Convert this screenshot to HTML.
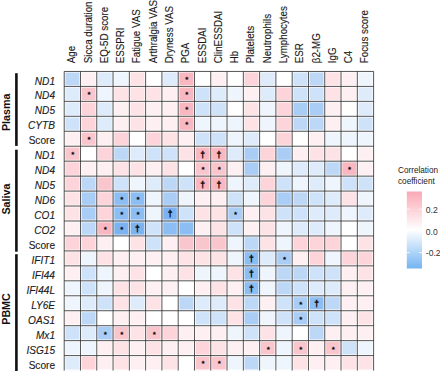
<!DOCTYPE html>
<html><head><meta charset="utf-8"><style>
html,body{margin:0;padding:0;background:#fff;}
body{width:440px;height:371px;overflow:hidden;}
svg{display:block;}
text{font-family:"Liberation Sans",sans-serif;}
.g{stroke:#2a2a2a;stroke-width:0.8;}
.h{stroke:rgba(255,255,255,0.7);stroke-width:2.8;}
.st{font-size:8px;text-anchor:middle;fill:#000;stroke:#000;stroke-width:0.3px;}
.dg{font-size:8.6px;text-anchor:middle;fill:#000;font-weight:bold;stroke:#000;stroke-width:0.3px;}
.ch{font-size:9.75px;fill:#1a1a1a;stroke:#1a1a1a;stroke-width:0.12px;}
.rl{font-size:10.1px;fill:#1a1a1a;text-anchor:end;stroke:#1a1a1a;stroke-width:0.12px;}
.it{font-style:italic;}
.gl{font-size:10.7px;font-weight:bold;fill:#111;text-anchor:middle;}
.lt{font-size:8.2px;fill:#222;}
.tk{font-size:8.6px;fill:#333;}
</style></head><body>
<svg width="440" height="371" viewBox="0 0 440 371">

<defs><linearGradient id="lg" x1="0" y1="0" x2="0" y2="1">
<stop offset="0" stop-color="#f9a9b5"/>
<stop offset="0.5" stop-color="#ffffff"/>
<stop offset="1" stop-color="#74b4f2"/>
</linearGradient></defs>
<text x="398" y="172.8" class="lt">Correlation</text>
<text x="398" y="183.8" class="lt">coefficient</text>
<rect x="406.8" y="191.5" width="15.2" height="77" fill="url(#lg)"/>
<line x1="406.8" y1="209.2" x2="409.8" y2="209.2" stroke="#fff" stroke-width="0.8"/>
<line x1="419" y1="209.2" x2="422" y2="209.2" stroke="#fff" stroke-width="0.8"/>
<line x1="406.8" y1="230.9" x2="409.8" y2="230.9" stroke="#fff" stroke-width="0.8"/>
<line x1="419" y1="230.9" x2="422" y2="230.9" stroke="#fff" stroke-width="0.8"/>
<line x1="406.8" y1="252.6" x2="409.8" y2="252.6" stroke="#fff" stroke-width="0.8"/>
<line x1="419" y1="252.6" x2="422" y2="252.6" stroke="#fff" stroke-width="0.8"/>
<text x="425.8" y="213.3" class="tk">0.2</text>
<text x="425.8" y="234.6" class="tk">0.0</text>
<text x="425.8" y="255.8" class="tk">-0.2</text>

<rect x="64.20" y="71.45" width="16.33" height="15.01" fill="#bdd8f7"/><rect x="80.48" y="71.45" width="16.33" height="15.01" fill="#fef0f2"/><rect x="96.77" y="71.45" width="16.33" height="15.01" fill="#deebfb"/><rect x="113.05" y="71.45" width="16.33" height="15.01" fill="#eef5fd"/><rect x="129.34" y="71.45" width="16.33" height="15.01" fill="#fde2e6"/><rect x="145.62" y="71.45" width="16.33" height="15.01" fill="#ffffff"/><rect x="161.91" y="71.45" width="16.33" height="15.01" fill="#deebfb"/><rect x="178.19" y="71.45" width="16.33" height="15.01" fill="#f9b7c2"/><rect x="194.47" y="71.45" width="16.33" height="15.01" fill="#ffffff"/><rect x="210.76" y="71.45" width="16.33" height="15.01" fill="#fef0f2"/><rect x="227.04" y="71.45" width="16.33" height="15.01" fill="#ffffff"/><rect x="243.33" y="71.45" width="16.33" height="15.01" fill="#fcd4da"/><rect x="259.61" y="71.45" width="16.33" height="15.01" fill="#deebfb"/><rect x="275.89" y="71.45" width="16.33" height="15.01" fill="#ffffff"/><rect x="292.18" y="71.45" width="16.33" height="15.01" fill="#cee2f9"/><rect x="308.46" y="71.45" width="16.33" height="15.01" fill="#bdd8f7"/><rect x="324.75" y="71.45" width="16.33" height="15.01" fill="#fde2e6"/><rect x="341.03" y="71.45" width="16.33" height="15.01" fill="#fef0f2"/><rect x="357.32" y="71.45" width="16.33" height="15.01" fill="#eef5fd"/><rect x="64.20" y="86.41" width="16.33" height="15.01" fill="#deebfb"/><rect x="80.48" y="86.41" width="16.33" height="15.01" fill="#fac6ce"/><rect x="96.77" y="86.41" width="16.33" height="15.01" fill="#eef5fd"/><rect x="113.05" y="86.41" width="16.33" height="15.01" fill="#fde2e6"/><rect x="129.34" y="86.41" width="16.33" height="15.01" fill="#fde2e6"/><rect x="145.62" y="86.41" width="16.33" height="15.01" fill="#fde2e6"/><rect x="161.91" y="86.41" width="16.33" height="15.01" fill="#fef0f2"/><rect x="178.19" y="86.41" width="16.33" height="15.01" fill="#f9b7c2"/><rect x="194.47" y="86.41" width="16.33" height="15.01" fill="#cee2f9"/><rect x="210.76" y="86.41" width="16.33" height="15.01" fill="#deebfb"/><rect x="227.04" y="86.41" width="16.33" height="15.01" fill="#eef5fd"/><rect x="243.33" y="86.41" width="16.33" height="15.01" fill="#fef0f2"/><rect x="259.61" y="86.41" width="16.33" height="15.01" fill="#deebfb"/><rect x="275.89" y="86.41" width="16.33" height="15.01" fill="#fcd4da"/><rect x="292.18" y="86.41" width="16.33" height="15.01" fill="#cee2f9"/><rect x="308.46" y="86.41" width="16.33" height="15.01" fill="#cee2f9"/><rect x="324.75" y="86.41" width="16.33" height="15.01" fill="#fde2e6"/><rect x="341.03" y="86.41" width="16.33" height="15.01" fill="#fef0f2"/><rect x="357.32" y="86.41" width="16.33" height="15.01" fill="#deebfb"/><rect x="64.20" y="101.36" width="16.33" height="15.01" fill="#deebfb"/><rect x="80.48" y="101.36" width="16.33" height="15.01" fill="#fcd4da"/><rect x="96.77" y="101.36" width="16.33" height="15.01" fill="#deebfb"/><rect x="113.05" y="101.36" width="16.33" height="15.01" fill="#fef0f2"/><rect x="129.34" y="101.36" width="16.33" height="15.01" fill="#fde2e6"/><rect x="145.62" y="101.36" width="16.33" height="15.01" fill="#fef0f2"/><rect x="161.91" y="101.36" width="16.33" height="15.01" fill="#fef0f2"/><rect x="178.19" y="101.36" width="16.33" height="15.01" fill="#f9b7c2"/><rect x="194.47" y="101.36" width="16.33" height="15.01" fill="#cee2f9"/><rect x="210.76" y="101.36" width="16.33" height="15.01" fill="#cee2f9"/><rect x="227.04" y="101.36" width="16.33" height="15.01" fill="#ffffff"/><rect x="243.33" y="101.36" width="16.33" height="15.01" fill="#fde2e6"/><rect x="259.61" y="101.36" width="16.33" height="15.01" fill="#eef5fd"/><rect x="275.89" y="101.36" width="16.33" height="15.01" fill="#fcd4da"/><rect x="292.18" y="101.36" width="16.33" height="15.01" fill="#aacdf5"/><rect x="308.46" y="101.36" width="16.33" height="15.01" fill="#aacdf5"/><rect x="324.75" y="101.36" width="16.33" height="15.01" fill="#fef0f2"/><rect x="341.03" y="101.36" width="16.33" height="15.01" fill="#ffffff"/><rect x="357.32" y="101.36" width="16.33" height="15.01" fill="#deebfb"/><rect x="64.20" y="116.31" width="16.33" height="15.01" fill="#cee2f9"/><rect x="80.48" y="116.31" width="16.33" height="15.01" fill="#fcd4da"/><rect x="96.77" y="116.31" width="16.33" height="15.01" fill="#deebfb"/><rect x="113.05" y="116.31" width="16.33" height="15.01" fill="#fef0f2"/><rect x="129.34" y="116.31" width="16.33" height="15.01" fill="#fde2e6"/><rect x="145.62" y="116.31" width="16.33" height="15.01" fill="#fef0f2"/><rect x="161.91" y="116.31" width="16.33" height="15.01" fill="#fef0f2"/><rect x="178.19" y="116.31" width="16.33" height="15.01" fill="#f9b7c2"/><rect x="194.47" y="116.31" width="16.33" height="15.01" fill="#eef5fd"/><rect x="210.76" y="116.31" width="16.33" height="15.01" fill="#eef5fd"/><rect x="227.04" y="116.31" width="16.33" height="15.01" fill="#eef5fd"/><rect x="243.33" y="116.31" width="16.33" height="15.01" fill="#fde2e6"/><rect x="259.61" y="116.31" width="16.33" height="15.01" fill="#eef5fd"/><rect x="275.89" y="116.31" width="16.33" height="15.01" fill="#fcd4da"/><rect x="292.18" y="116.31" width="16.33" height="15.01" fill="#bdd8f7"/><rect x="308.46" y="116.31" width="16.33" height="15.01" fill="#bdd8f7"/><rect x="324.75" y="116.31" width="16.33" height="15.01" fill="#fef0f2"/><rect x="341.03" y="116.31" width="16.33" height="15.01" fill="#eef5fd"/><rect x="357.32" y="116.31" width="16.33" height="15.01" fill="#cee2f9"/><rect x="64.20" y="131.27" width="16.33" height="15.01" fill="#fef0f2"/><rect x="80.48" y="131.27" width="16.33" height="15.01" fill="#fac6ce"/><rect x="96.77" y="131.27" width="16.33" height="15.01" fill="#fef0f2"/><rect x="113.05" y="131.27" width="16.33" height="15.01" fill="#fcd4da"/><rect x="129.34" y="131.27" width="16.33" height="15.01" fill="#ffffff"/><rect x="145.62" y="131.27" width="16.33" height="15.01" fill="#fcd4da"/><rect x="161.91" y="131.27" width="16.33" height="15.01" fill="#fde2e6"/><rect x="178.19" y="131.27" width="16.33" height="15.01" fill="#fef0f2"/><rect x="194.47" y="131.27" width="16.33" height="15.01" fill="#cee2f9"/><rect x="210.76" y="131.27" width="16.33" height="15.01" fill="#cee2f9"/><rect x="227.04" y="131.27" width="16.33" height="15.01" fill="#eef5fd"/><rect x="243.33" y="131.27" width="16.33" height="15.01" fill="#deebfb"/><rect x="259.61" y="131.27" width="16.33" height="15.01" fill="#ffffff"/><rect x="275.89" y="131.27" width="16.33" height="15.01" fill="#fcd4da"/><rect x="292.18" y="131.27" width="16.33" height="15.01" fill="#ffffff"/><rect x="308.46" y="131.27" width="16.33" height="15.01" fill="#fef0f2"/><rect x="324.75" y="131.27" width="16.33" height="15.01" fill="#eef5fd"/><rect x="341.03" y="131.27" width="16.33" height="15.01" fill="#eef5fd"/><rect x="357.32" y="131.27" width="16.33" height="15.01" fill="#eef5fd"/><rect x="64.20" y="146.23" width="16.33" height="15.01" fill="#fac6ce"/><rect x="80.48" y="146.23" width="16.33" height="15.01" fill="#ffffff"/><rect x="96.77" y="146.23" width="16.33" height="15.01" fill="#fcd4da"/><rect x="113.05" y="146.23" width="16.33" height="15.01" fill="#bdd8f7"/><rect x="129.34" y="146.23" width="16.33" height="15.01" fill="#deebfb"/><rect x="145.62" y="146.23" width="16.33" height="15.01" fill="#cee2f9"/><rect x="161.91" y="146.23" width="16.33" height="15.01" fill="#cee2f9"/><rect x="178.19" y="146.23" width="16.33" height="15.01" fill="#fde2e6"/><rect x="194.47" y="146.23" width="16.33" height="15.01" fill="#f9b7c2"/><rect x="210.76" y="146.23" width="16.33" height="15.01" fill="#f9b7c2"/><rect x="227.04" y="146.23" width="16.33" height="15.01" fill="#deebfb"/><rect x="243.33" y="146.23" width="16.33" height="15.01" fill="#aacdf5"/><rect x="259.61" y="146.23" width="16.33" height="15.01" fill="#fcd4da"/><rect x="275.89" y="146.23" width="16.33" height="15.01" fill="#aacdf5"/><rect x="292.18" y="146.23" width="16.33" height="15.01" fill="#fef0f2"/><rect x="308.46" y="146.23" width="16.33" height="15.01" fill="#fde2e6"/><rect x="324.75" y="146.23" width="16.33" height="15.01" fill="#fde2e6"/><rect x="341.03" y="146.23" width="16.33" height="15.01" fill="#ffffff"/><rect x="357.32" y="146.23" width="16.33" height="15.01" fill="#fef0f2"/><rect x="64.20" y="161.18" width="16.33" height="15.01" fill="#fcd4da"/><rect x="80.48" y="161.18" width="16.33" height="15.01" fill="#fef0f2"/><rect x="96.77" y="161.18" width="16.33" height="15.01" fill="#fef0f2"/><rect x="113.05" y="161.18" width="16.33" height="15.01" fill="#fde2e6"/><rect x="129.34" y="161.18" width="16.33" height="15.01" fill="#fde2e6"/><rect x="145.62" y="161.18" width="16.33" height="15.01" fill="#fef0f2"/><rect x="161.91" y="161.18" width="16.33" height="15.01" fill="#fde2e6"/><rect x="178.19" y="161.18" width="16.33" height="15.01" fill="#ffffff"/><rect x="194.47" y="161.18" width="16.33" height="15.01" fill="#fac6ce"/><rect x="210.76" y="161.18" width="16.33" height="15.01" fill="#fac6ce"/><rect x="227.04" y="161.18" width="16.33" height="15.01" fill="#fef0f2"/><rect x="243.33" y="161.18" width="16.33" height="15.01" fill="#aacdf5"/><rect x="259.61" y="161.18" width="16.33" height="15.01" fill="#fef0f2"/><rect x="275.89" y="161.18" width="16.33" height="15.01" fill="#eef5fd"/><rect x="292.18" y="161.18" width="16.33" height="15.01" fill="#deebfb"/><rect x="308.46" y="161.18" width="16.33" height="15.01" fill="#deebfb"/><rect x="324.75" y="161.18" width="16.33" height="15.01" fill="#bdd8f7"/><rect x="341.03" y="161.18" width="16.33" height="15.01" fill="#f9b7c2"/><rect x="357.32" y="161.18" width="16.33" height="15.01" fill="#fef0f2"/><rect x="64.20" y="176.13" width="16.33" height="15.01" fill="#fcd4da"/><rect x="80.48" y="176.13" width="16.33" height="15.01" fill="#bdd8f7"/><rect x="96.77" y="176.13" width="16.33" height="15.01" fill="#fac6ce"/><rect x="113.05" y="176.13" width="16.33" height="15.01" fill="#cee2f9"/><rect x="129.34" y="176.13" width="16.33" height="15.01" fill="#eef5fd"/><rect x="145.62" y="176.13" width="16.33" height="15.01" fill="#deebfb"/><rect x="161.91" y="176.13" width="16.33" height="15.01" fill="#bdd8f7"/><rect x="178.19" y="176.13" width="16.33" height="15.01" fill="#cee2f9"/><rect x="194.47" y="176.13" width="16.33" height="15.01" fill="#f9b7c2"/><rect x="210.76" y="176.13" width="16.33" height="15.01" fill="#f9b7c2"/><rect x="227.04" y="176.13" width="16.33" height="15.01" fill="#eef5fd"/><rect x="243.33" y="176.13" width="16.33" height="15.01" fill="#deebfb"/><rect x="259.61" y="176.13" width="16.33" height="15.01" fill="#fcd4da"/><rect x="275.89" y="176.13" width="16.33" height="15.01" fill="#cee2f9"/><rect x="292.18" y="176.13" width="16.33" height="15.01" fill="#eef5fd"/><rect x="308.46" y="176.13" width="16.33" height="15.01" fill="#deebfb"/><rect x="324.75" y="176.13" width="16.33" height="15.01" fill="#eef5fd"/><rect x="341.03" y="176.13" width="16.33" height="15.01" fill="#cee2f9"/><rect x="357.32" y="176.13" width="16.33" height="15.01" fill="#cee2f9"/><rect x="64.20" y="191.09" width="16.33" height="15.01" fill="#fde2e6"/><rect x="80.48" y="191.09" width="16.33" height="15.01" fill="#aacdf5"/><rect x="96.77" y="191.09" width="16.33" height="15.01" fill="#fcd4da"/><rect x="113.05" y="191.09" width="16.33" height="15.01" fill="#8cbdf3"/><rect x="129.34" y="191.09" width="16.33" height="15.01" fill="#8cbdf3"/><rect x="145.62" y="191.09" width="16.33" height="15.01" fill="#eef5fd"/><rect x="161.91" y="191.09" width="16.33" height="15.01" fill="#aacdf5"/><rect x="178.19" y="191.09" width="16.33" height="15.01" fill="#eef5fd"/><rect x="194.47" y="191.09" width="16.33" height="15.01" fill="#fef0f2"/><rect x="210.76" y="191.09" width="16.33" height="15.01" fill="#fef0f2"/><rect x="227.04" y="191.09" width="16.33" height="15.01" fill="#cee2f9"/><rect x="243.33" y="191.09" width="16.33" height="15.01" fill="#eef5fd"/><rect x="259.61" y="191.09" width="16.33" height="15.01" fill="#fcd4da"/><rect x="275.89" y="191.09" width="16.33" height="15.01" fill="#aacdf5"/><rect x="292.18" y="191.09" width="16.33" height="15.01" fill="#bdd8f7"/><rect x="308.46" y="191.09" width="16.33" height="15.01" fill="#cee2f9"/><rect x="324.75" y="191.09" width="16.33" height="15.01" fill="#deebfb"/><rect x="341.03" y="191.09" width="16.33" height="15.01" fill="#fde2e6"/><rect x="357.32" y="191.09" width="16.33" height="15.01" fill="#eef5fd"/><rect x="64.20" y="206.05" width="16.33" height="15.01" fill="#fde2e6"/><rect x="80.48" y="206.05" width="16.33" height="15.01" fill="#aacdf5"/><rect x="96.77" y="206.05" width="16.33" height="15.01" fill="#fcd4da"/><rect x="113.05" y="206.05" width="16.33" height="15.01" fill="#8cbdf3"/><rect x="129.34" y="206.05" width="16.33" height="15.01" fill="#8cbdf3"/><rect x="145.62" y="206.05" width="16.33" height="15.01" fill="#eef5fd"/><rect x="161.91" y="206.05" width="16.33" height="15.01" fill="#7cb2f0"/><rect x="178.19" y="206.05" width="16.33" height="15.01" fill="#cee2f9"/><rect x="194.47" y="206.05" width="16.33" height="15.01" fill="#fde2e6"/><rect x="210.76" y="206.05" width="16.33" height="15.01" fill="#fde2e6"/><rect x="227.04" y="206.05" width="16.33" height="15.01" fill="#aacdf5"/><rect x="243.33" y="206.05" width="16.33" height="15.01" fill="#fef0f2"/><rect x="259.61" y="206.05" width="16.33" height="15.01" fill="#fde2e6"/><rect x="275.89" y="206.05" width="16.33" height="15.01" fill="#cee2f9"/><rect x="292.18" y="206.05" width="16.33" height="15.01" fill="#cee2f9"/><rect x="308.46" y="206.05" width="16.33" height="15.01" fill="#deebfb"/><rect x="324.75" y="206.05" width="16.33" height="15.01" fill="#deebfb"/><rect x="341.03" y="206.05" width="16.33" height="15.01" fill="#eef5fd"/><rect x="357.32" y="206.05" width="16.33" height="15.01" fill="#deebfb"/><rect x="64.20" y="221.00" width="16.33" height="15.01" fill="#fef0f2"/><rect x="80.48" y="221.00" width="16.33" height="15.01" fill="#bdd8f7"/><rect x="96.77" y="221.00" width="16.33" height="15.01" fill="#f9b7c2"/><rect x="113.05" y="221.00" width="16.33" height="15.01" fill="#7cb2f0"/><rect x="129.34" y="221.00" width="16.33" height="15.01" fill="#7cb2f0"/><rect x="145.62" y="221.00" width="16.33" height="15.01" fill="#cee2f9"/><rect x="161.91" y="221.00" width="16.33" height="15.01" fill="#8cbdf3"/><rect x="178.19" y="221.00" width="16.33" height="15.01" fill="#8cbdf3"/><rect x="194.47" y="221.00" width="16.33" height="15.01" fill="#fef0f2"/><rect x="210.76" y="221.00" width="16.33" height="15.01" fill="#fde2e6"/><rect x="227.04" y="221.00" width="16.33" height="15.01" fill="#cee2f9"/><rect x="243.33" y="221.00" width="16.33" height="15.01" fill="#fef0f2"/><rect x="259.61" y="221.00" width="16.33" height="15.01" fill="#fde2e6"/><rect x="275.89" y="221.00" width="16.33" height="15.01" fill="#eef5fd"/><rect x="292.18" y="221.00" width="16.33" height="15.01" fill="#deebfb"/><rect x="308.46" y="221.00" width="16.33" height="15.01" fill="#deebfb"/><rect x="324.75" y="221.00" width="16.33" height="15.01" fill="#eef5fd"/><rect x="341.03" y="221.00" width="16.33" height="15.01" fill="#ffffff"/><rect x="357.32" y="221.00" width="16.33" height="15.01" fill="#eef5fd"/><rect x="64.20" y="235.95" width="16.33" height="15.01" fill="#fcd4da"/><rect x="80.48" y="235.95" width="16.33" height="15.01" fill="#fcd4da"/><rect x="96.77" y="235.95" width="16.33" height="15.01" fill="#fef0f2"/><rect x="113.05" y="235.95" width="16.33" height="15.01" fill="#ffffff"/><rect x="129.34" y="235.95" width="16.33" height="15.01" fill="#fde2e6"/><rect x="145.62" y="235.95" width="16.33" height="15.01" fill="#cee2f9"/><rect x="161.91" y="235.95" width="16.33" height="15.01" fill="#fef0f2"/><rect x="178.19" y="235.95" width="16.33" height="15.01" fill="#fac6ce"/><rect x="194.47" y="235.95" width="16.33" height="15.01" fill="#fac6ce"/><rect x="210.76" y="235.95" width="16.33" height="15.01" fill="#fac6ce"/><rect x="227.04" y="235.95" width="16.33" height="15.01" fill="#eef5fd"/><rect x="243.33" y="235.95" width="16.33" height="15.01" fill="#bdd8f7"/><rect x="259.61" y="235.95" width="16.33" height="15.01" fill="#fde2e6"/><rect x="275.89" y="235.95" width="16.33" height="15.01" fill="#eef5fd"/><rect x="292.18" y="235.95" width="16.33" height="15.01" fill="#fcd4da"/><rect x="308.46" y="235.95" width="16.33" height="15.01" fill="#fcd4da"/><rect x="324.75" y="235.95" width="16.33" height="15.01" fill="#fcd4da"/><rect x="341.03" y="235.95" width="16.33" height="15.01" fill="#ffffff"/><rect x="357.32" y="235.95" width="16.33" height="15.01" fill="#fde2e6"/><rect x="64.20" y="250.91" width="16.33" height="15.01" fill="#fde2e6"/><rect x="80.48" y="250.91" width="16.33" height="15.01" fill="#eef5fd"/><rect x="96.77" y="250.91" width="16.33" height="15.01" fill="#fde2e6"/><rect x="113.05" y="250.91" width="16.33" height="15.01" fill="#fef0f2"/><rect x="129.34" y="250.91" width="16.33" height="15.01" fill="#fef0f2"/><rect x="145.62" y="250.91" width="16.33" height="15.01" fill="#fef0f2"/><rect x="161.91" y="250.91" width="16.33" height="15.01" fill="#fef0f2"/><rect x="178.19" y="250.91" width="16.33" height="15.01" fill="#fde2e6"/><rect x="194.47" y="250.91" width="16.33" height="15.01" fill="#fde2e6"/><rect x="210.76" y="250.91" width="16.33" height="15.01" fill="#fde2e6"/><rect x="227.04" y="250.91" width="16.33" height="15.01" fill="#eef5fd"/><rect x="243.33" y="250.91" width="16.33" height="15.01" fill="#8cbdf3"/><rect x="259.61" y="250.91" width="16.33" height="15.01" fill="#deebfb"/><rect x="275.89" y="250.91" width="16.33" height="15.01" fill="#aacdf5"/><rect x="292.18" y="250.91" width="16.33" height="15.01" fill="#fef0f2"/><rect x="308.46" y="250.91" width="16.33" height="15.01" fill="#fcd4da"/><rect x="324.75" y="250.91" width="16.33" height="15.01" fill="#eef5fd"/><rect x="341.03" y="250.91" width="16.33" height="15.01" fill="#fcd4da"/><rect x="357.32" y="250.91" width="16.33" height="15.01" fill="#fcd4da"/><rect x="64.20" y="265.87" width="16.33" height="15.01" fill="#fef0f2"/><rect x="80.48" y="265.87" width="16.33" height="15.01" fill="#cee2f9"/><rect x="96.77" y="265.87" width="16.33" height="15.01" fill="#eef5fd"/><rect x="113.05" y="265.87" width="16.33" height="15.01" fill="#fef0f2"/><rect x="129.34" y="265.87" width="16.33" height="15.01" fill="#fde2e6"/><rect x="145.62" y="265.87" width="16.33" height="15.01" fill="#ffffff"/><rect x="161.91" y="265.87" width="16.33" height="15.01" fill="#fef0f2"/><rect x="178.19" y="265.87" width="16.33" height="15.01" fill="#fde2e6"/><rect x="194.47" y="265.87" width="16.33" height="15.01" fill="#eef5fd"/><rect x="210.76" y="265.87" width="16.33" height="15.01" fill="#eef5fd"/><rect x="227.04" y="265.87" width="16.33" height="15.01" fill="#fde2e6"/><rect x="243.33" y="265.87" width="16.33" height="15.01" fill="#8cbdf3"/><rect x="259.61" y="265.87" width="16.33" height="15.01" fill="#eef5fd"/><rect x="275.89" y="265.87" width="16.33" height="15.01" fill="#bdd8f7"/><rect x="292.18" y="265.87" width="16.33" height="15.01" fill="#bdd8f7"/><rect x="308.46" y="265.87" width="16.33" height="15.01" fill="#cee2f9"/><rect x="324.75" y="265.87" width="16.33" height="15.01" fill="#cee2f9"/><rect x="341.03" y="265.87" width="16.33" height="15.01" fill="#fef0f2"/><rect x="357.32" y="265.87" width="16.33" height="15.01" fill="#fde2e6"/><rect x="64.20" y="280.82" width="16.33" height="15.01" fill="#eef5fd"/><rect x="80.48" y="280.82" width="16.33" height="15.01" fill="#cee2f9"/><rect x="96.77" y="280.82" width="16.33" height="15.01" fill="#eef5fd"/><rect x="113.05" y="280.82" width="16.33" height="15.01" fill="#fde2e6"/><rect x="129.34" y="280.82" width="16.33" height="15.01" fill="#fde2e6"/><rect x="145.62" y="280.82" width="16.33" height="15.01" fill="#fef0f2"/><rect x="161.91" y="280.82" width="16.33" height="15.01" fill="#fef0f2"/><rect x="178.19" y="280.82" width="16.33" height="15.01" fill="#ffffff"/><rect x="194.47" y="280.82" width="16.33" height="15.01" fill="#fef0f2"/><rect x="210.76" y="280.82" width="16.33" height="15.01" fill="#fde2e6"/><rect x="227.04" y="280.82" width="16.33" height="15.01" fill="#fef0f2"/><rect x="243.33" y="280.82" width="16.33" height="15.01" fill="#8cbdf3"/><rect x="259.61" y="280.82" width="16.33" height="15.01" fill="#eef5fd"/><rect x="275.89" y="280.82" width="16.33" height="15.01" fill="#bdd8f7"/><rect x="292.18" y="280.82" width="16.33" height="15.01" fill="#cee2f9"/><rect x="308.46" y="280.82" width="16.33" height="15.01" fill="#deebfb"/><rect x="324.75" y="280.82" width="16.33" height="15.01" fill="#deebfb"/><rect x="341.03" y="280.82" width="16.33" height="15.01" fill="#fef0f2"/><rect x="357.32" y="280.82" width="16.33" height="15.01" fill="#fef0f2"/><rect x="64.20" y="295.77" width="16.33" height="15.01" fill="#eef5fd"/><rect x="80.48" y="295.77" width="16.33" height="15.01" fill="#deebfb"/><rect x="96.77" y="295.77" width="16.33" height="15.01" fill="#cee2f9"/><rect x="113.05" y="295.77" width="16.33" height="15.01" fill="#fde2e6"/><rect x="129.34" y="295.77" width="16.33" height="15.01" fill="#deebfb"/><rect x="145.62" y="295.77" width="16.33" height="15.01" fill="#fde2e6"/><rect x="161.91" y="295.77" width="16.33" height="15.01" fill="#ffffff"/><rect x="178.19" y="295.77" width="16.33" height="15.01" fill="#bdd8f7"/><rect x="194.47" y="295.77" width="16.33" height="15.01" fill="#deebfb"/><rect x="210.76" y="295.77" width="16.33" height="15.01" fill="#deebfb"/><rect x="227.04" y="295.77" width="16.33" height="15.01" fill="#fde2e6"/><rect x="243.33" y="295.77" width="16.33" height="15.01" fill="#bdd8f7"/><rect x="259.61" y="295.77" width="16.33" height="15.01" fill="#fef0f2"/><rect x="275.89" y="295.77" width="16.33" height="15.01" fill="#cee2f9"/><rect x="292.18" y="295.77" width="16.33" height="15.01" fill="#aacdf5"/><rect x="308.46" y="295.77" width="16.33" height="15.01" fill="#8cbdf3"/><rect x="324.75" y="295.77" width="16.33" height="15.01" fill="#bdd8f7"/><rect x="341.03" y="295.77" width="16.33" height="15.01" fill="#fef0f2"/><rect x="357.32" y="295.77" width="16.33" height="15.01" fill="#fef0f2"/><rect x="64.20" y="310.73" width="16.33" height="15.01" fill="#fef0f2"/><rect x="80.48" y="310.73" width="16.33" height="15.01" fill="#bdd8f7"/><rect x="96.77" y="310.73" width="16.33" height="15.01" fill="#ffffff"/><rect x="113.05" y="310.73" width="16.33" height="15.01" fill="#fef0f2"/><rect x="129.34" y="310.73" width="16.33" height="15.01" fill="#fef0f2"/><rect x="145.62" y="310.73" width="16.33" height="15.01" fill="#ffffff"/><rect x="161.91" y="310.73" width="16.33" height="15.01" fill="#ffffff"/><rect x="178.19" y="310.73" width="16.33" height="15.01" fill="#ffffff"/><rect x="194.47" y="310.73" width="16.33" height="15.01" fill="#cee2f9"/><rect x="210.76" y="310.73" width="16.33" height="15.01" fill="#cee2f9"/><rect x="227.04" y="310.73" width="16.33" height="15.01" fill="#fde2e6"/><rect x="243.33" y="310.73" width="16.33" height="15.01" fill="#aacdf5"/><rect x="259.61" y="310.73" width="16.33" height="15.01" fill="#eef5fd"/><rect x="275.89" y="310.73" width="16.33" height="15.01" fill="#cee2f9"/><rect x="292.18" y="310.73" width="16.33" height="15.01" fill="#aacdf5"/><rect x="308.46" y="310.73" width="16.33" height="15.01" fill="#cee2f9"/><rect x="324.75" y="310.73" width="16.33" height="15.01" fill="#cee2f9"/><rect x="341.03" y="310.73" width="16.33" height="15.01" fill="#fef0f2"/><rect x="357.32" y="310.73" width="16.33" height="15.01" fill="#fde2e6"/><rect x="64.20" y="325.69" width="16.33" height="15.01" fill="#cee2f9"/><rect x="80.48" y="325.69" width="16.33" height="15.01" fill="#deebfb"/><rect x="96.77" y="325.69" width="16.33" height="15.01" fill="#aacdf5"/><rect x="113.05" y="325.69" width="16.33" height="15.01" fill="#fac6ce"/><rect x="129.34" y="325.69" width="16.33" height="15.01" fill="#fde2e6"/><rect x="145.62" y="325.69" width="16.33" height="15.01" fill="#fac6ce"/><rect x="161.91" y="325.69" width="16.33" height="15.01" fill="#fcd4da"/><rect x="178.19" y="325.69" width="16.33" height="15.01" fill="#fef0f2"/><rect x="194.47" y="325.69" width="16.33" height="15.01" fill="#fef0f2"/><rect x="210.76" y="325.69" width="16.33" height="15.01" fill="#fef0f2"/><rect x="227.04" y="325.69" width="16.33" height="15.01" fill="#eef5fd"/><rect x="243.33" y="325.69" width="16.33" height="15.01" fill="#cee2f9"/><rect x="259.61" y="325.69" width="16.33" height="15.01" fill="#fde2e6"/><rect x="275.89" y="325.69" width="16.33" height="15.01" fill="#eef5fd"/><rect x="292.18" y="325.69" width="16.33" height="15.01" fill="#ffffff"/><rect x="308.46" y="325.69" width="16.33" height="15.01" fill="#bdd8f7"/><rect x="324.75" y="325.69" width="16.33" height="15.01" fill="#fef0f2"/><rect x="341.03" y="325.69" width="16.33" height="15.01" fill="#fef0f2"/><rect x="357.32" y="325.69" width="16.33" height="15.01" fill="#fef0f2"/><rect x="64.20" y="340.64" width="16.33" height="15.01" fill="#eef5fd"/><rect x="80.48" y="340.64" width="16.33" height="15.01" fill="#eef5fd"/><rect x="96.77" y="340.64" width="16.33" height="15.01" fill="#fef0f2"/><rect x="113.05" y="340.64" width="16.33" height="15.01" fill="#fde2e6"/><rect x="129.34" y="340.64" width="16.33" height="15.01" fill="#fef0f2"/><rect x="145.62" y="340.64" width="16.33" height="15.01" fill="#fde2e6"/><rect x="161.91" y="340.64" width="16.33" height="15.01" fill="#fef0f2"/><rect x="178.19" y="340.64" width="16.33" height="15.01" fill="#fef0f2"/><rect x="194.47" y="340.64" width="16.33" height="15.01" fill="#fcd4da"/><rect x="210.76" y="340.64" width="16.33" height="15.01" fill="#fde2e6"/><rect x="227.04" y="340.64" width="16.33" height="15.01" fill="#fef0f2"/><rect x="243.33" y="340.64" width="16.33" height="15.01" fill="#fef0f2"/><rect x="259.61" y="340.64" width="16.33" height="15.01" fill="#fac6ce"/><rect x="275.89" y="340.64" width="16.33" height="15.01" fill="#eef5fd"/><rect x="292.18" y="340.64" width="16.33" height="15.01" fill="#fac6ce"/><rect x="308.46" y="340.64" width="16.33" height="15.01" fill="#fef0f2"/><rect x="324.75" y="340.64" width="16.33" height="15.01" fill="#fac6ce"/><rect x="341.03" y="340.64" width="16.33" height="15.01" fill="#cee2f9"/><rect x="357.32" y="340.64" width="16.33" height="15.01" fill="#eef5fd"/><rect x="64.20" y="355.59" width="16.33" height="15.01" fill="#deebfb"/><rect x="80.48" y="355.59" width="16.33" height="15.01" fill="#fcd4da"/><rect x="96.77" y="355.59" width="16.33" height="15.01" fill="#fef0f2"/><rect x="113.05" y="355.59" width="16.33" height="15.01" fill="#fde2e6"/><rect x="129.34" y="355.59" width="16.33" height="15.01" fill="#fef0f2"/><rect x="145.62" y="355.59" width="16.33" height="15.01" fill="#fef0f2"/><rect x="161.91" y="355.59" width="16.33" height="15.01" fill="#fde2e6"/><rect x="178.19" y="355.59" width="16.33" height="15.01" fill="#ffffff"/><rect x="194.47" y="355.59" width="16.33" height="15.01" fill="#fac6ce"/><rect x="210.76" y="355.59" width="16.33" height="15.01" fill="#fac6ce"/><rect x="227.04" y="355.59" width="16.33" height="15.01" fill="#eef5fd"/><rect x="243.33" y="355.59" width="16.33" height="15.01" fill="#bdd8f7"/><rect x="259.61" y="355.59" width="16.33" height="15.01" fill="#eef5fd"/><rect x="275.89" y="355.59" width="16.33" height="15.01" fill="#eef5fd"/><rect x="292.18" y="355.59" width="16.33" height="15.01" fill="#fde2e6"/><rect x="308.46" y="355.59" width="16.33" height="15.01" fill="#fef0f2"/><rect x="324.75" y="355.59" width="16.33" height="15.01" fill="#fef0f2"/><rect x="341.03" y="355.59" width="16.33" height="15.01" fill="#fde2e6"/><rect x="357.32" y="355.59" width="16.33" height="15.01" fill="#fde2e6"/><line x1="64.20" y1="71.45" x2="64.20" y2="370.55" class="h"/><line x1="80.48" y1="71.45" x2="80.48" y2="370.55" class="h"/><line x1="96.77" y1="71.45" x2="96.77" y2="370.55" class="h"/><line x1="113.05" y1="71.45" x2="113.05" y2="370.55" class="h"/><line x1="129.34" y1="71.45" x2="129.34" y2="370.55" class="h"/><line x1="145.62" y1="71.45" x2="145.62" y2="370.55" class="h"/><line x1="161.91" y1="71.45" x2="161.91" y2="370.55" class="h"/><line x1="178.19" y1="71.45" x2="178.19" y2="370.55" class="h"/><line x1="194.47" y1="71.45" x2="194.47" y2="370.55" class="h"/><line x1="210.76" y1="71.45" x2="210.76" y2="370.55" class="h"/><line x1="227.04" y1="71.45" x2="227.04" y2="370.55" class="h"/><line x1="243.33" y1="71.45" x2="243.33" y2="370.55" class="h"/><line x1="259.61" y1="71.45" x2="259.61" y2="370.55" class="h"/><line x1="275.89" y1="71.45" x2="275.89" y2="370.55" class="h"/><line x1="292.18" y1="71.45" x2="292.18" y2="370.55" class="h"/><line x1="308.46" y1="71.45" x2="308.46" y2="370.55" class="h"/><line x1="324.75" y1="71.45" x2="324.75" y2="370.55" class="h"/><line x1="341.03" y1="71.45" x2="341.03" y2="370.55" class="h"/><line x1="357.32" y1="71.45" x2="357.32" y2="370.55" class="h"/><line x1="373.60" y1="71.45" x2="373.60" y2="370.55" class="h"/><line x1="64.20" y1="71.45" x2="373.60" y2="71.45" class="h"/><line x1="64.20" y1="86.41" x2="373.60" y2="86.41" class="h"/><line x1="64.20" y1="101.36" x2="373.60" y2="101.36" class="h"/><line x1="64.20" y1="116.31" x2="373.60" y2="116.31" class="h"/><line x1="64.20" y1="131.27" x2="373.60" y2="131.27" class="h"/><line x1="64.20" y1="146.23" x2="373.60" y2="146.23" class="h"/><line x1="64.20" y1="161.18" x2="373.60" y2="161.18" class="h"/><line x1="64.20" y1="176.13" x2="373.60" y2="176.13" class="h"/><line x1="64.20" y1="191.09" x2="373.60" y2="191.09" class="h"/><line x1="64.20" y1="206.05" x2="373.60" y2="206.05" class="h"/><line x1="64.20" y1="221.00" x2="373.60" y2="221.00" class="h"/><line x1="64.20" y1="235.95" x2="373.60" y2="235.95" class="h"/><line x1="64.20" y1="250.91" x2="373.60" y2="250.91" class="h"/><line x1="64.20" y1="265.87" x2="373.60" y2="265.87" class="h"/><line x1="64.20" y1="280.82" x2="373.60" y2="280.82" class="h"/><line x1="64.20" y1="295.77" x2="373.60" y2="295.77" class="h"/><line x1="64.20" y1="310.73" x2="373.60" y2="310.73" class="h"/><line x1="64.20" y1="325.69" x2="373.60" y2="325.69" class="h"/><line x1="64.20" y1="340.64" x2="373.60" y2="340.64" class="h"/><line x1="64.20" y1="355.59" x2="373.60" y2="355.59" class="h"/><line x1="64.20" y1="370.55" x2="373.60" y2="370.55" class="h"/><line x1="64.20" y1="71.45" x2="64.20" y2="370.55" class="g"/><line x1="80.48" y1="71.45" x2="80.48" y2="370.55" class="g"/><line x1="96.77" y1="71.45" x2="96.77" y2="370.55" class="g"/><line x1="113.05" y1="71.45" x2="113.05" y2="370.55" class="g"/><line x1="129.34" y1="71.45" x2="129.34" y2="370.55" class="g"/><line x1="145.62" y1="71.45" x2="145.62" y2="370.55" class="g"/><line x1="161.91" y1="71.45" x2="161.91" y2="370.55" class="g"/><line x1="178.19" y1="71.45" x2="178.19" y2="370.55" class="g"/><line x1="194.47" y1="71.45" x2="194.47" y2="370.55" class="g"/><line x1="210.76" y1="71.45" x2="210.76" y2="370.55" class="g"/><line x1="227.04" y1="71.45" x2="227.04" y2="370.55" class="g"/><line x1="243.33" y1="71.45" x2="243.33" y2="370.55" class="g"/><line x1="259.61" y1="71.45" x2="259.61" y2="370.55" class="g"/><line x1="275.89" y1="71.45" x2="275.89" y2="370.55" class="g"/><line x1="292.18" y1="71.45" x2="292.18" y2="370.55" class="g"/><line x1="308.46" y1="71.45" x2="308.46" y2="370.55" class="g"/><line x1="324.75" y1="71.45" x2="324.75" y2="370.55" class="g"/><line x1="341.03" y1="71.45" x2="341.03" y2="370.55" class="g"/><line x1="357.32" y1="71.45" x2="357.32" y2="370.55" class="g"/><line x1="373.60" y1="71.45" x2="373.60" y2="370.55" class="g"/><line x1="64.20" y1="71.45" x2="373.60" y2="71.45" class="g"/><line x1="64.20" y1="86.41" x2="373.60" y2="86.41" class="g"/><line x1="64.20" y1="101.36" x2="373.60" y2="101.36" class="g"/><line x1="64.20" y1="116.31" x2="373.60" y2="116.31" class="g"/><line x1="64.20" y1="131.27" x2="373.60" y2="131.27" class="g"/><line x1="64.20" y1="146.23" x2="373.60" y2="146.23" class="g"/><line x1="64.20" y1="161.18" x2="373.60" y2="161.18" class="g"/><line x1="64.20" y1="176.13" x2="373.60" y2="176.13" class="g"/><line x1="64.20" y1="191.09" x2="373.60" y2="191.09" class="g"/><line x1="64.20" y1="206.05" x2="373.60" y2="206.05" class="g"/><line x1="64.20" y1="221.00" x2="373.60" y2="221.00" class="g"/><line x1="64.20" y1="235.95" x2="373.60" y2="235.95" class="g"/><line x1="64.20" y1="250.91" x2="373.60" y2="250.91" class="g"/><line x1="64.20" y1="265.87" x2="373.60" y2="265.87" class="g"/><line x1="64.20" y1="280.82" x2="373.60" y2="280.82" class="g"/><line x1="64.20" y1="295.77" x2="373.60" y2="295.77" class="g"/><line x1="64.20" y1="310.73" x2="373.60" y2="310.73" class="g"/><line x1="64.20" y1="325.69" x2="373.60" y2="325.69" class="g"/><line x1="64.20" y1="340.64" x2="373.60" y2="340.64" class="g"/><line x1="64.20" y1="355.59" x2="373.60" y2="355.59" class="g"/><line x1="64.20" y1="371.70" x2="373.60" y2="371.70" class="g"/><text x="186.83" y="82.33" class="st">*</text><text x="89.13" y="97.28" class="st">*</text><text x="186.83" y="97.28" class="st">*</text><text x="186.83" y="112.24" class="st">*</text><text x="186.83" y="127.19" class="st">*</text><text x="89.13" y="142.15" class="st">*</text><text x="72.84" y="157.10" class="st">*</text><text x="202.62" y="157.60" class="dg">†</text><text x="218.90" y="157.60" class="dg">†</text><text x="203.12" y="172.06" class="st">*</text><text x="219.40" y="172.06" class="st">*</text><text x="349.67" y="172.06" class="st">*</text><text x="202.62" y="187.51" class="dg">†</text><text x="218.90" y="187.51" class="dg">†</text><text x="121.69" y="201.97" class="st">*</text><text x="137.98" y="201.97" class="st">*</text><text x="121.69" y="216.92" class="st">*</text><text x="137.98" y="216.92" class="st">*</text><text x="170.05" y="217.42" class="dg">†</text><text x="235.68" y="216.92" class="st">*</text><text x="105.41" y="231.88" class="st">*</text><text x="121.69" y="231.88" class="st">*</text><text x="137.48" y="232.38" class="dg">†</text><text x="251.47" y="262.29" class="dg">†</text><text x="284.54" y="261.79" class="st">*</text><text x="251.47" y="277.24" class="dg">†</text><text x="251.47" y="292.20" class="dg">†</text><text x="300.82" y="306.65" class="st">*</text><text x="316.61" y="307.15" class="dg">†</text><text x="300.82" y="321.61" class="st">*</text><text x="105.41" y="336.56" class="st">*</text><text x="121.69" y="336.56" class="st">*</text><text x="154.26" y="336.56" class="st">*</text><text x="268.25" y="351.52" class="st">*</text><text x="300.82" y="351.52" class="st">*</text><text x="333.39" y="351.52" class="st">*</text><text x="203.12" y="366.47" class="st">*</text><text x="219.40" y="366.47" class="st">*</text><text transform="translate(75.34,63.2) rotate(-90) scale(1,1.1)" class="ch">Age</text><text transform="translate(91.63,63.2) rotate(-90) scale(1,1.1)" class="ch">Sicca duration</text><text transform="translate(107.91,63.2) rotate(-90) scale(1,1.1)" class="ch">EQ-5D score</text><text transform="translate(124.19,63.2) rotate(-90) scale(1,1.1)" class="ch">ESSPRI</text><text transform="translate(140.48,63.2) rotate(-90) scale(1,1.1)" class="ch">Fatigue VAS</text><text transform="translate(156.76,63.2) rotate(-90) scale(1,1.1)" class="ch">Arthralgia VAS</text><text transform="translate(173.05,63.2) rotate(-90) scale(1,1.1)" class="ch">Dryness VAS</text><text transform="translate(189.33,63.2) rotate(-90) scale(1,1.1)" class="ch">PGA</text><text transform="translate(205.62,63.2) rotate(-90) scale(1,1.1)" class="ch">ESSDAI</text><text transform="translate(221.90,63.2) rotate(-90) scale(1,1.1)" class="ch">ClinESSDAI</text><text transform="translate(238.18,63.2) rotate(-90) scale(1,1.1)" class="ch">Hb</text><text transform="translate(254.47,63.2) rotate(-90) scale(1,1.1)" class="ch">Platelets</text><text transform="translate(270.75,63.2) rotate(-90) scale(1,1.1)" class="ch">Neutrophils</text><text transform="translate(287.04,63.2) rotate(-90) scale(1,1.1)" class="ch">Lymphocytes</text><text transform="translate(303.32,63.2) rotate(-90) scale(1,1.1)" class="ch">ESR</text><text transform="translate(319.61,63.2) rotate(-90) scale(1,1.1)" class="ch">β2-MG</text><text transform="translate(335.89,63.2) rotate(-90) scale(1,1.1)" class="ch">IgG</text><text transform="translate(352.17,63.2) rotate(-90) scale(1,1.1)" class="ch">C4</text><text transform="translate(368.46,63.2) rotate(-90) scale(1,1.1)" class="ch">Focus score</text><text x="55.0" y="84.53" class="rl it">ND1</text><text x="55.0" y="99.48" class="rl it">ND4</text><text x="55.0" y="114.44" class="rl it">ND5</text><text x="55.0" y="129.39" class="rl it">CYTB</text><text x="55.0" y="144.35" class="rl">Score</text><text x="55.0" y="159.30" class="rl it">ND1</text><text x="55.0" y="174.26" class="rl it">ND4</text><text x="55.0" y="189.21" class="rl it">ND5</text><text x="55.0" y="204.17" class="rl it">ND6</text><text x="55.0" y="219.12" class="rl it">CO1</text><text x="55.0" y="234.08" class="rl it">CO2</text><text x="55.0" y="249.03" class="rl">Score</text><text x="55.0" y="263.99" class="rl it">IFIT1</text><text x="55.0" y="278.94" class="rl it">IFI44</text><text x="55.0" y="293.90" class="rl it">IFI44L</text><text x="55.0" y="308.85" class="rl it">LY6E</text><text x="55.0" y="323.81" class="rl it">OAS1</text><text x="55.0" y="338.76" class="rl it">Mx1</text><text x="55.0" y="353.72" class="rl it">ISG15</text><text x="55.0" y="368.67" class="rl">Score</text><rect x="15.1" y="73.2" width="2.6" height="72.7" fill="#111"/><rect x="15.1" y="149.7" width="2.6" height="102.0" fill="#111"/><rect x="15.1" y="254.2" width="2.6" height="116.8" fill="#111"/><text transform="translate(9.6,112.3) rotate(-90)" class="gl">Plasma</text><text transform="translate(9.6,199.1) rotate(-90)" class="gl">Saliva</text><text transform="translate(9.6,309.0) rotate(-90)" class="gl">PBMC</text>
</svg>
</body></html>
